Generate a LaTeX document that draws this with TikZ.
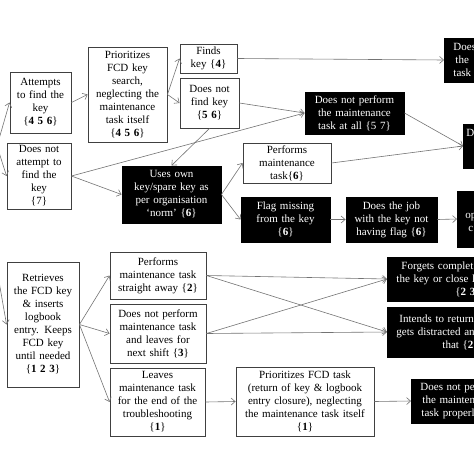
\documentclass[tikz,border=0pt]{standalone}
\usepackage{fontspec}
\setmainfont{Liberation Serif}
\usetikzlibrary{arrows.meta}
\definecolor{lnc}{gray}{0.45}
\definecolor{bdc}{gray}{0.25}
\tikzset{
 wbox/.style={draw=bdc, line width=0.9pt, fill=white, align=center, inner xsep=0pt, inner ysep=0pt, font=\fontsize{11}{13}\selectfont},
 bbox/.style={wbox, draw=black, fill=black, text=white},
 sz/.style 2 args={text width=#1pt, minimum height=#2pt},
 cut/.style={bbox, anchor=west, text width=100pt, align=left},
 conn/.style={draw=lnc, line width=0.6pt, -{Straight Barb[length=4pt,width=7pt]}},
}
\newcommand{\nb}[1]{\{\textbf{#1}\}}

\begin{document}
\begin{tikzpicture}[x=1pt, y=-1pt]
\useasboundingbox (0,0) rectangle (474,474);
\clip (0,0) rectangle (474,474);
\coordinate (upsrc) at (-3,146);
\coordinate (lowsrc) at (-3,270);
% upper part: key not at hand
\node[wbox, sz={61}{61}] (attempt) at (40.5,102.5) {Attempts\\to find the\\key\\\nb{4 5 6}};
\node[wbox, sz={64}{66}] (noattempt) at (39,176) {Does not\\attempt to\\find the\\key\\\{7\}};
\node[wbox, sz={79}{95}] (keysearch) at (127.5,94.5) {Prioritizes\\FCD key\\search,\\neglecting the\\maintenance\\task itself\\\nb{4 5 6}};
\node[wbox, sz={57}{29}] (finds) at (208.5,58.5) {Finds\\key \nb{4}};
\node[wbox, sz={59}{50}] (notfind) at (209.5,103) {Does not\\find key\\\nb{5 6}};
\node[bbox, sz={99}{57}] (ownkey) at (171.5,194.5) {Uses own\\key/spare key as\\per organisation\\`norm' \nb{6}};
\node[bbox, sz={99}{42}] (notatall) at (354.5,113) {Does not perform\\the maintenance\\task at all \{5 7\}};
\node[wbox, sz={88}{40}] (perfsix) at (287,163) {Performs\\maintenance\\task\nb{6}};
\node[bbox, sz={89}{45}] (flag) at (285.5,219.5) {Flag missing\\from the key\\\nb{6}};
\node[bbox, sz={91}{45}] (dojob) at (391.5,219.5) {Does the job\\with the key not\\having flag \nb{6}};
\node[cut, minimum height=44pt] (taskr) at (444,60) {\hspace*{9pt}Does\\\hspace*{11pt}the\\\hspace*{9pt}task};
\node[cut, minimum height=44pt] (dright) at (463,146) {\hspace*{3pt}D\\\mbox{}\\\mbox{}};
\node[cut, minimum height=56pt] (opright) at (457,219) {\mbox{}\\\hspace*{8pt}op\\\hspace*{11pt}c};
% lower part: key retrieved
\node[wbox, sz={72}{125}] (retrieve) at (43,324.5) {Retrieves\\the FCD key\\\& inserts\\logbook\\entry. Keeps\\FCD key\\until needed\\\nb{1 2 3}};
\node[wbox, sz={96}{47}] (straight) at (158,275.5) {Performs\\maintenance task\\straight away \nb{2}};
\node[wbox, sz={96}{59}] (nextshift) at (158,333.5) {Does not perform\\maintenance task\\and leaves for\\next shift \nb{3}};
\node[wbox, sz={95}{68}] (endtrouble) at (157.5,402) {Leaves\\maintenance task\\for the end of the\\troubleshooting\\\nb{1}};
\node[wbox, sz={138}{69}] (fcdtask) at (305,401.5) {Prioritizes FCD task\\(return of key \& logbook\\entry closure), neglecting\\the maintenance task itself\\\nb{1}};
\node[cut, minimum height=44pt] (forgets) at (387,279) {\hspace*{14pt}Forgets complet\\\hspace*{9pt}the key or close l\\\hspace*{68pt}\{\textbf{2 3}};
\node[cut, minimum height=50pt] (intends) at (387,332) {\hspace*{12pt}Intends to return\\\hspace*{9pt}gets distracted an\\\hspace*{55pt}that \{\textbf{2}};
\node[cut, minimum height=44pt] (improper) at (411,401) {\hspace*{9pt}Does not pe\\\hspace*{11pt}the mainten\\\hspace*{10pt}task properl};
% connectors
\draw[conn] (upsrc) -- (attempt.west);
\draw[conn] (upsrc) -- (noattempt.west);
\draw[conn] (lowsrc) -- (retrieve.west);
\draw[conn] (attempt.east) -- (keysearch.west);
\draw[conn] (keysearch.east) -- (finds.west);
\draw[conn] (keysearch.east) -- (notfind.west);
\draw[conn] (finds.east) -- (taskr.west);
\draw[conn] (notfind.east) -- (notatall.west);
\draw[conn] (notfind.south) -- (ownkey.north);
\draw[conn] (noattempt.east) -- (notatall.west);
\draw[conn] (noattempt.east) -- (ownkey.west);
\draw[conn] (ownkey.east) -- (perfsix.west);
\draw[conn] (ownkey.east) -- (flag.west);
\draw[conn] (notatall.east) -- (dright.west);
\draw[conn] (perfsix.east) -- (dright.west);
\draw[conn] (flag.east) -- (dojob.west);
\draw[conn] (dojob.east) -- (opright.west);
\foreach \t in {straight,nextshift,endtrouble}
 \draw[conn] (retrieve.east) -- (\t.west);
\foreach \s in {straight,nextshift} {
 \draw[conn] (\s.east) -- (forgets.west);
 \draw[conn] (\s.east) -- (intends.west);
}
\draw[conn] (endtrouble.east) -- (fcdtask.west);
\draw[conn] (fcdtask.east) -- (improper.west);
\end{tikzpicture}
\end{document}
